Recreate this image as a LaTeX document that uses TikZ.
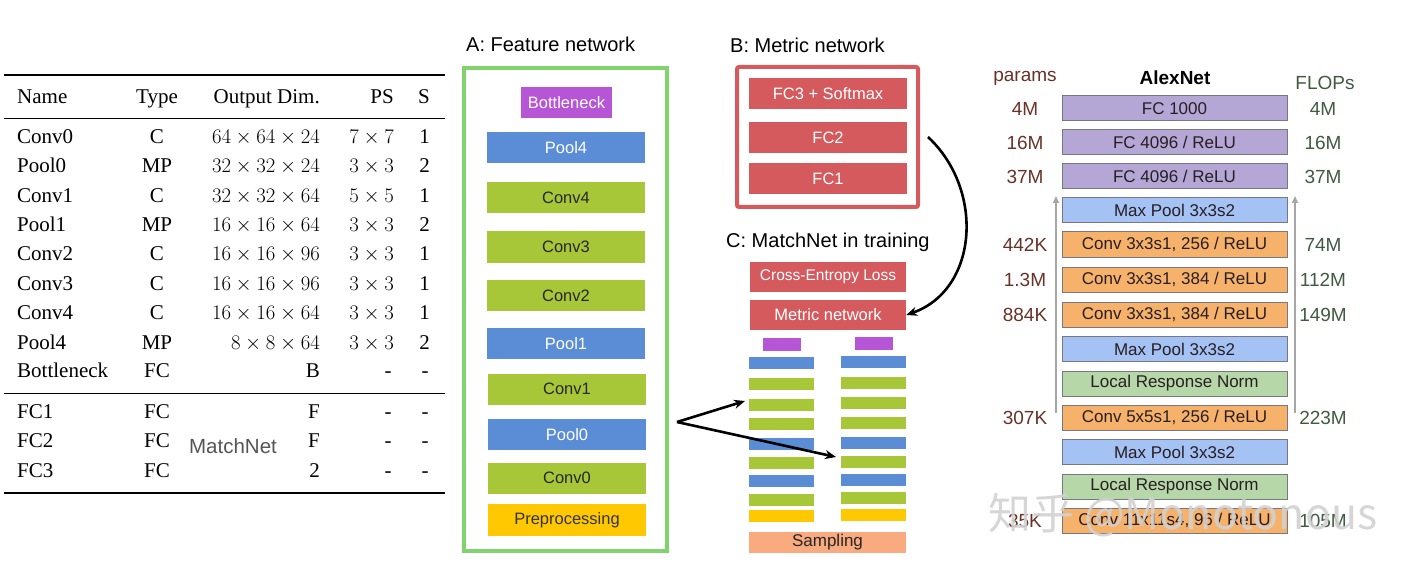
\documentclass[tikz,border=0pt]{standalone}
\usepackage{fontspec}
\setmainfont{Liberation Serif}
\newfontfamily\arialf{Liberation Sans}
\newfontfamily\cjkf{Noto Sans CJK SC}
\usetikzlibrary{arrows.meta}
\definecolor{fgreen}{RGB}{130,210,110}
\definecolor{cpurple}{RGB}{182,86,214}
\definecolor{cblue}{RGB}{91,141,214}
\definecolor{cgreen}{RGB}{167,199,57}
\definecolor{cyellow}{RGB}{255,200,0}
\definecolor{cred}{RGB}{213,90,94}
\definecolor{cpeach}{RGB}{249,171,127}
\definecolor{apurple}{RGB}{180,167,214}
\definecolor{ablue}{RGB}{164,194,244}
\definecolor{aorange}{RGB}{246,178,107}
\definecolor{agreen}{RGB}{182,215,168}
\definecolor{aborder}{RGB}{120,120,130}
\definecolor{atext}{RGB}{40,30,35}
\definecolor{pcol}{RGB}{105,50,40}
\definecolor{fcol}{RGB}{65,90,65}
\definecolor{mgray}{RGB}{85,85,85}
\begin{document}
\begin{tikzpicture}[x=1pt,y=-1pt,
  tcell/.style={inner sep=0pt, font=\fontsize{21}{25}\selectfont, text height=14.5pt, text depth=4pt},
  blk/.style={inner sep=0pt, minimum width=158pt, minimum height=31pt, font=\arialf\fontsize{16.5}{19}\selectfont},
  bar/.style={inner sep=0pt, minimum width=65pt, minimum height=12pt},
  anet/.style={draw=aborder, line width=1pt, inner sep=0pt, minimum width=225pt, minimum height=25pt, font=\arialf\fontsize{17}{20}\selectfont, text=atext},
  plab/.style={inner sep=0pt, font=\arialf\fontsize{19}{22}\selectfont, text=pcol},
  flab/.style={inner sep=0pt, font=\arialf\fontsize{19}{22}\selectfont, text=fcol},
  ttl/.style={inner sep=0pt, anchor=west, font=\arialf\fontsize{20}{23}\selectfont},
  bigarrow/.style={line width=2.6pt, -{Stealth[length=11pt,width=9pt]}},
  grayarrow/.style={draw=gray!70, line width=1.6pt, -{Triangle[length=7pt,width=6pt]}}
]
\fill[white] (0,0) rectangle (1411,572);
\useasboundingbox (0,0) rectangle (1411,572);

% ---------------- table ----------------
\draw[line width=1.6pt] (4,75) -- (445,75);
\draw[line width=0.9pt] (4,118) -- (445,118);
\draw[line width=0.9pt] (4,393) -- (445,393);
\draw[line width=1.8pt] (4,493) -- (445,493);

\node[tcell, anchor=west] (hname) at (17,98) {Name};
\node[tcell] (htype) at (157,98) {Type};
\node[tcell, anchor=east] (hdim) at (320,98) {Output Dim.};
\node[tcell, anchor=east] (hps) at (394,98) {PS};
\node[tcell, anchor=east] (hs) at (430,98) {S};

\foreach \nm/\ty/\od/\ps/\st [count=\i] in {
  Conv0/C/64\times64\times24/7\times7/1,
  Pool0/MP/32\times32\times24/3\times3/2,
  Conv1/C/32\times32\times64/5\times5/1,
  Pool1/MP/16\times16\times64/3\times3/2,
  Conv2/C/16\times16\times96/3\times3/1,
  Conv3/C/16\times16\times96/3\times3/1,
  Conv4/C/16\times16\times64/3\times3/1,
  Pool4/MP/8\times8\times64/3\times3/2}{
  \node[tcell, anchor=west] (rn\i) at (17,108.6+29.4*\i) {\nm};
  \node[tcell] (rt\i) at (157,108.6+29.4*\i) {\ty};
  \node[tcell, anchor=east] (rd\i) at (320,108.6+29.4*\i) {$\od$};
  \node[tcell, anchor=east] (rp\i) at (394,108.6+29.4*\i) {$\ps$};
  \node[tcell, anchor=east] (rs\i) at (430,108.6+29.4*\i) {\st};
}
\foreach \nm/\ty/\od/\yy [count=\i] in {Bottleneck/FC/B/372, FC1/FC/F/413, FC2/FC/F/442.5, FC3/FC/2/472}{
  \node[tcell, anchor=west] (qn\i) at (17,\yy) {\nm};
  \node[tcell] (qt\i) at (157,\yy) {\ty};
  \node[tcell, anchor=east] (qd\i) at (320,\yy) {\od};
  \node[tcell] (qp\i) at (388,\yy) {-};
  \node[tcell] (qs\i) at (425,\yy) {-};
}
\node[inner sep=0pt, font=\arialf\fontsize{20.5}{24}\selectfont, text=mgray] (mnlabel) at (233,446) {MatchNet};

% ---------------- A: feature network ----------------
\node[ttl] (ta) at (466,44) {A: Feature network};
\draw[fgreen, line width=4pt] (464,68) rectangle (667,551);
\node[blk, fill=cpurple, text=white, minimum width=91pt] (bott) at (566.5,102.5) {Bottleneck};
\node[blk, fill=cblue, text=white] (pool4) at (566,147.5) {Pool4};
\node[blk, fill=cgreen, text=black!85] (conv4) at (566,198) {Conv4};
\node[blk, fill=cgreen, text=black!85] (conv3) at (566,247) {Conv3};
\node[blk, fill=cgreen, text=black!85] (conv2) at (566,295.5) {Conv2};
\node[blk, fill=cblue, text=white] (pool1) at (566,343.5) {Pool1};
\node[blk, fill=cgreen, text=black!85] (conv1) at (567,389) {Conv1};
\node[blk, fill=cblue, text=white] (pool0) at (567,434.5) {Pool0};
\node[blk, fill=cgreen, text=black!85] (conv0) at (567,478) {Conv0};
\node[blk, fill=cyellow, text=black!80, minimum height=32pt] (prep) at (567,520) {Preprocessing};

% ---------------- B: metric network ----------------
\node[ttl] (tb) at (730,45) {B: Metric network};
\draw[cred, line width=4pt, rounded corners=2pt] (737,67) rectangle (918,207);
\node[blk, fill=cred, text=white] (fc3) at (828,93.5) {FC3 + Softmax};
\node[blk, fill=cred, text=white] (fc2) at (828,137.5) {FC2};
\node[blk, fill=cred, text=white] (fc1) at (828,178.5) {FC1};

% ---------------- C: MatchNet in training ----------------
\node[ttl] (tc) at (726,242) {C: MatchNet in training};
\node[blk, fill=cred, text=white, minimum width=156pt, minimum height=30pt, font=\arialf\fontsize{15.5}{18}\selectfont] (cel) at (828,277) {Cross-Entropy Loss};
\node[blk, fill=cred, text=white, minimum width=156pt, minimum height=30pt] (metn) at (828,315) {Metric network};

\node[bar, fill=cpurple, minimum width=38pt, minimum height=13pt] (lbot) at (782,344.5) {};
\node[bar, fill=cpurple, minimum width=38pt, minimum height=13pt] (rbot) at (874,343.5) {};
\foreach \c/\yy [count=\i] in {cblue/363, cgreen/384, cgreen/404.5, cgreen/424, cblue/444, cgreen/463, cblue/481, cgreen/499.5, cyellow/516}{
  \node[bar, fill=\c] (L\i) at (781.5,\yy) {};
  \node[bar, fill=\c] (R\i) at (873.5,\yy-1.5) {};
}
\node[inner sep=0pt, fill=cpeach, minimum width=157pt, minimum height=21pt, font=\arialf\fontsize{17}{20}\selectfont, text=black!85] (samp) at (827.5,542) {Sampling};

% arrows
\coordinate (split) at (677,422);
\draw[bigarrow] (split) -- (745,401);
\draw[bigarrow] (split) -- (836,457);
\coordinate (cstart) at (928,137);
\draw[bigarrow] (cstart) .. controls (985,190) and (978,290) .. (metn.east);

% ---------------- AlexNet ----------------
\node[plab] (params) at (1025,78) {params};
\node[inner sep=0pt, font=\arialf\bfseries\fontsize{19}{22}\selectfont] (alex) at (1175,78) {AlexNet};
\node[flab] (flops) at (1325,83) {FLOPs};

\draw[grayarrow] (1056,413) -- (1056,196);
\draw[grayarrow] (1295,413) -- (1295,196);

\foreach \c/\txt/\yy/\pl/\fl [count=\i] in {
  apurple/{FC 1000}/108.5/4M/4M,
  apurple/{FC 4096 / ReLU}/142.5/16M/16M,
  apurple/{FC 4096 / ReLU}/176.5/37M/37M,
  ablue/{Max Pool 3x3s2}/210.5/{}/{},
  aorange/{Conv 3x3s1, 256 / ReLU}/244.5/442K/74M,
  aorange/{Conv 3x3s1, 384 / ReLU}/279.5/1.3M/112M,
  aorange/{Conv 3x3s1, 384 / ReLU}/314.5/884K/149M,
  ablue/{Max Pool 3x3s2}/349/{}/{},
  agreen/{Local Response Norm}/383.5/{}/{},
  aorange/{Conv 5x5s1, 256 / ReLU}/417.5/307K/223M,
  ablue/{Max Pool 3x3s2}/452/{}/{},
  agreen/{Local Response Norm}/486.5/{}/{},
  aorange/{Conv 11x11s4, 96 / ReLU}/520.5/35K/105M}{
  \node[anet, fill=\c] (ax\i) at (1174.5,\yy) {\txt};
  \node[plab] (ap\i) at (1025,\yy) {\pl};
  \node[flab] (af\i) at (1323,\yy) {\fl};
}

% watermark
\node[inner sep=0pt, font=\cjkf\fontsize{43}{50}\selectfont, text=gray!35, opacity=0.9] (wm) at (1183,515) {知乎 @Monotonous};
\end{tikzpicture}
\end{document}
